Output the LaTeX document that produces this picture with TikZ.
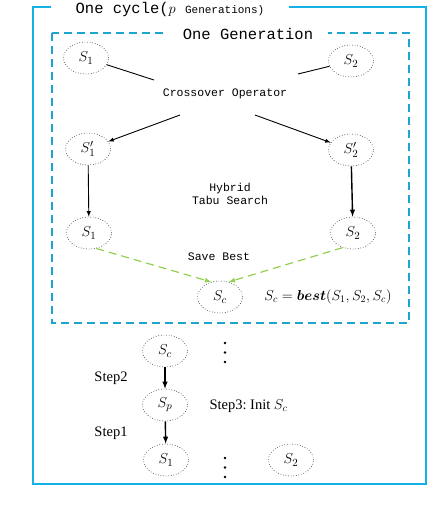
\documentclass[tikz,border=0pt]{standalone}
\usepackage{amsmath}
\usepackage{fontspec}
\setmainfont{Liberation Serif}
\newfontfamily\monofont{Liberation Mono}
\usetikzlibrary{shapes.geometric}
\definecolor{cyclecol}{RGB}{20,178,228}
\definecolor{gencol}{RGB}{30,165,205}
\definecolor{savecol}{RGB}{146,208,80}
\begin{document}
\begin{tikzpicture}[x=1pt, y=-1pt, >=latex,
    sol/.style={ellipse, draw=black!90, dotted, line width=0.6pt, minimum width=45pt, minimum height=32pt, inner sep=0pt, font=\fontsize{15}{17}\selectfont},
    mono/.style={font=\monofont\fontsize{11.5}{13}\selectfont}]
  \useasboundingbox (0, 0) rectangle (432, 520);
  % outer box: one cycle
  \draw [cyclecol, line width=1.8pt] (33, 7) rectangle (426, 484);
  \node (cycle) [fill=white, inner xsep=25pt, inner ysep=1pt] at (170, 9) {\monofont\fontsize{15.5}{17}\selectfont One cycle($p$ {\fontsize{11}{13}\selectfont Generations)}};
  % inner box: one generation
  \draw [gencol, dash pattern=on 8pt off 5pt, line width=1.1pt] (52, 33) rectangle (409, 323);
  \node (gen) [fill=white, inner xsep=15pt, inner ysep=1pt] at (248, 34) {\monofont\fontsize{15.5}{17}\selectfont One Generation};
  \node (s1) [sol] at (86, 58) {$S_1$};
  \node (s2) [sol] at (351, 61) {$S_2$};
  \node (cross) [mono] at (225, 94) {Crossover Operator};
  \coordinate (cin1) at (154, 80);
  \coordinate (cin2) at (298, 74);
  \coordinate (cout1) at (180, 115);
  \coordinate (cout2) at (255, 115);
  \draw [line width=0.9pt] (s1) -- (cin1);
  \draw [line width=0.9pt] (s2) -- (cin2);
  \node (s1p) [sol] at (88, 149) {$S_1'$};
  \node (s2p) [sol] at (351, 150) {$S_2'$};
  \draw [->, line width=0.9pt] (cout1) -- (s1p);
  \draw [->, line width=0.9pt] (cout2) -- (s2p);
  \node (hts) [mono, align=center] at (230, 194) {Hybrid\\Tabu Search};
  \node (s1b) [sol] at (89, 233) {$S_1$};
  \node (s2b) [sol] at (353, 233) {$S_2$};
  \draw [->, line width=0.9pt] (s1p) -- (s1b);
  \draw [->, line width=1.4pt] (s2p) -- (s2b);
  \node (save) [mono] at (219, 257) {Save Best};
  \node (sc) [sol] at (220, 297) {$S_c$};
  \node (best) [font=\fontsize{14.5}{16}\selectfont] at (328, 297) {$S_c = \boldsymbol{best}(S_1,S_2,S_c)$};
  \draw [->, savecol, dash pattern=on 8pt off 5pt, line width=1.2pt] (s1b.-65) -- (sc.120);
  \draw [->, savecol, dash pattern=on 8pt off 5pt, line width=1.2pt] (s2b.-125) -- (sc.60);
  % below the generation
  \node (scc) [sol] at (165, 351) {$S_c$};
  \node (sp) [sol] at (165, 405) {$S_p$};
  \node (s1c) [sol] at (166, 460) {$S_1$};
  \node (s2c) [sol] at (291, 460) {$S_2$};
  \draw [->, line width=1.4pt] (scc) -- (sp);
  \draw [->, line width=1.4pt] (sp) -- (s1c);
  \node (step2) [font=\fontsize{14.5}{16}\selectfont] at (111, 378) {Step2};
  \node (step1) [font=\fontsize{14.5}{16}\selectfont] at (111, 433) {Step1};
  \node (step3) [anchor=west, font=\fontsize{14.5}{16}\selectfont] at (206, 406) {Step3:\ Init $S_c$};
  \foreach \y in {343, 352.5, 362} \fill (225, \y) circle (1.3pt);
  \foreach \y in {458, 467.5, 477} \fill (225, \y) circle (1.3pt);
\end{tikzpicture}
\end{document}
